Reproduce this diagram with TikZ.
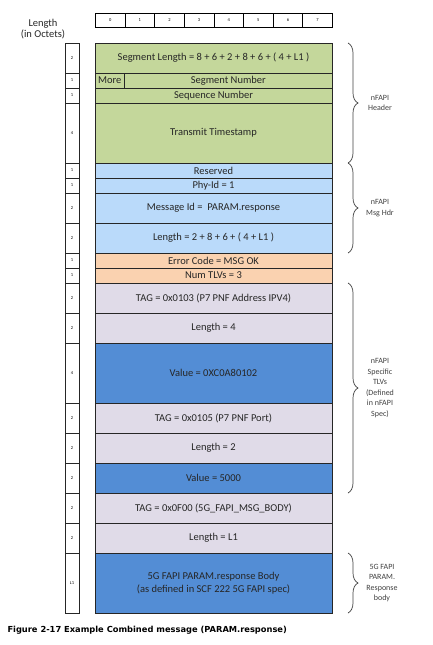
\documentclass[tikz,border=0pt]{standalone}
\usepackage{fontspec}
\setmainfont{Carlito}
\newfontfamily\captionfont{DejaVu Sans}
\usepackage{tikz}
\usetikzlibrary{positioning,decorations.pathreplacing}
\definecolor{hdrGreen}{RGB}{196,215,155}
\definecolor{msgBlue}{RGB}{186,218,250}
\definecolor{codeOrange}{RGB}{250,210,176}
\definecolor{tlvLilac}{RGB}{224,219,232}
\definecolor{valBlue}{RGB}{83,141,213}
\definecolor{braceGray}{RGB}{64,64,64}
\tikzset{
  field/.style={draw=black!85, line width=0.7pt, inner sep=0pt, outer sep=0pt,
    minimum width=237pt, font=\fontsize{10.5}{12.5}\selectfont, text=black!85},
  o1/.style={minimum height=15pt},
  o2/.style={minimum height=30pt},
  o4/.style={minimum height=60pt},
  octbox/.style={draw=black!85, line width=0.7pt, inner sep=0pt, outer sep=0pt,
    minimum width=14pt, font=\fontsize{4.5}{5}\selectfont},
  bitbox/.style={draw=black, line width=0.7pt, inner sep=0pt, anchor=north west,
    minimum width=29.625pt, minimum height=14.2pt, font=\fontsize{4.5}{5}\selectfont},
  brc/.style={decorate, decoration={brace, amplitude=10pt}, draw=braceGray, line width=0.7pt},
  brclbl/.style={font=\fontsize{8}{10.5}\selectfont, text=braceGray, align=center}
}
\begin{document}
\begin{tikzpicture}[x=1pt,y=-1pt]
  \useasboundingbox (0,0) rectangle (432,645);
  % Octet header
  \node[font=\fontsize{10.5}{11.5}\selectfont, text=black!85, align=center] (lenhdr) at (43,29) {Length\\(in Octets)};
  \foreach \i in {0,...,7}
    \node[bitbox] (bit\i) at (95+\i*29.625,12.5) {\i};
  % nFAPI header
  \node[field,o2,fill=hdrGreen,anchor=north west] (seglen) at (95,43) {Segment Length = 8 + 6 + 2 + 8 + 6 + ( 4 + L1 )};
  \node[field,o1,fill=hdrGreen,minimum width=29.625pt,below=0pt of seglen.south west,anchor=north west] (more) {More};
  \node[field,o1,fill=hdrGreen,minimum width=207.375pt,right=0pt of more] (segnum) {Segment Number};
  \node[field,o1,fill=hdrGreen,below=0pt of more.south west,anchor=north west] (seqnum) {Sequence Number};
  \node[field,o4,fill=hdrGreen,below=0pt of seqnum] (tstamp) {Transmit Timestamp};
  % nFAPI message header
  \node[field,o1,fill=msgBlue,below=0pt of tstamp] (resvd) {Reserved};
  \node[field,o1,fill=msgBlue,below=0pt of resvd] (phyid) {Phy-Id = 1};
  \node[field,o2,fill=msgBlue,below=0pt of phyid] (msgid) {Message Id =\ \ PARAM.response};
  \node[field,o2,fill=msgBlue,below=0pt of msgid] (msglen) {Length = 2 + 8 + 6 + ( 4 + L1 )};
  \node[field,o1,fill=codeOrange,below=0pt of msglen] (errcode) {Error Code = MSG OK};
  \node[field,o1,fill=codeOrange,below=0pt of errcode] (numtlv) {Num TLVs = 3};
  % TLVs
  \node[field,o2,fill=tlvLilac,below=0pt of numtlv] (tagA) {TAG = 0x0103 (P7 PNF Address IPV4)};
  \node[field,o2,fill=tlvLilac,below=0pt of tagA] (lenA) {Length = 4};
  \node[field,o4,fill=valBlue,below=0pt of lenA] (valA) {Value = 0XC0A80102};
  \node[field,o2,fill=tlvLilac,below=0pt of valA] (tagB) {TAG = 0x0105 (P7 PNF Port)};
  \node[field,o2,fill=tlvLilac,below=0pt of tagB] (lenB) {Length = 2};
  \node[field,o2,fill=valBlue,below=0pt of lenB] (valB) {Value = 5000};
  \node[field,o2,fill=tlvLilac,below=0pt of valB] (tagC) {TAG = 0x0F00 (5G\_FAPI\_MSG\_BODY)};
  \node[field,o2,fill=tlvLilac,below=0pt of tagC] (lenC) {Length = L1};
  \node[field,o4,fill=valBlue,align=center,below=0pt of lenC] (body) {5G FAPI PARAM.response Body\\(as defined in SCF 222 5G FAPI spec)};
  % Length column
  \node[octbox,o2,left=16pt of seglen] (n1) {2};
  \node[octbox,o1,left=16pt of more] (n2) {1};
  \node[octbox,o1,left=16pt of seqnum] (n3) {1};
  \node[octbox,o4,left=16pt of tstamp] (n4) {4};
  \node[octbox,o1,left=16pt of resvd] (n5) {1};
  \node[octbox,o1,left=16pt of phyid] (n6) {1};
  \node[octbox,o2,left=16pt of msgid] (n7) {2};
  \node[octbox,o2,left=16pt of msglen] (n8) {2};
  \node[octbox,o1,left=16pt of errcode] (n9) {1};
  \node[octbox,o1,left=16pt of numtlv] (n10) {1};
  \node[octbox,o2,left=16pt of tagA] (n11) {2};
  \node[octbox,o2,left=16pt of lenA] (n12) {2};
  \node[octbox,o4,left=16pt of valA] (n13) {4};
  \node[octbox,o2,left=16pt of tagB] (n14) {2};
  \node[octbox,o2,left=16pt of lenB] (n15) {2};
  \node[octbox,o2,left=16pt of valB] (n16) {2};
  \node[octbox,o2,left=16pt of tagC] (n17) {2};
  \node[octbox,o2,left=16pt of lenC] (n18) {2};
  \node[octbox,o4,left=16pt of body] (n19) {L1};
  % Braces
  \draw[brc] ([xshift=16pt]seglen.north east) -- ([xshift=16pt]tstamp.south east)
    node[brclbl,midway,xshift=32pt] (hdrlbl) {nFAPI\\Header};
  \draw[brc] ([xshift=16pt]resvd.north east) -- ([xshift=16pt]msglen.south east)
    node[brclbl,midway,xshift=32pt] (msglbl) {nFAPI\\Msg Hdr};
  \draw[brc] ([xshift=16pt]tagA.north east) -- ([xshift=16pt]valB.south east)
    node[brclbl,midway,xshift=32pt] (tlvlbl) {nFAPI\\Specific\\TLVs\\(Defined\\in nFAPI\\Spec)};
  \draw[brc] ([xshift=16pt]body.north east) -- ([xshift=16pt]body.south east)
    node[brclbl,midway,xshift=34pt] (bodylbl) {5G FAPI\\PARAM.\\Response\\body};
  % Caption
  \node[anchor=west, font=\captionfont\bfseries\fontsize{8.3}{10}\selectfont] (cap) at (4,630)
    {Figure 2-17 Example Combined message (PARAM.response)};
\end{tikzpicture}
\end{document}
